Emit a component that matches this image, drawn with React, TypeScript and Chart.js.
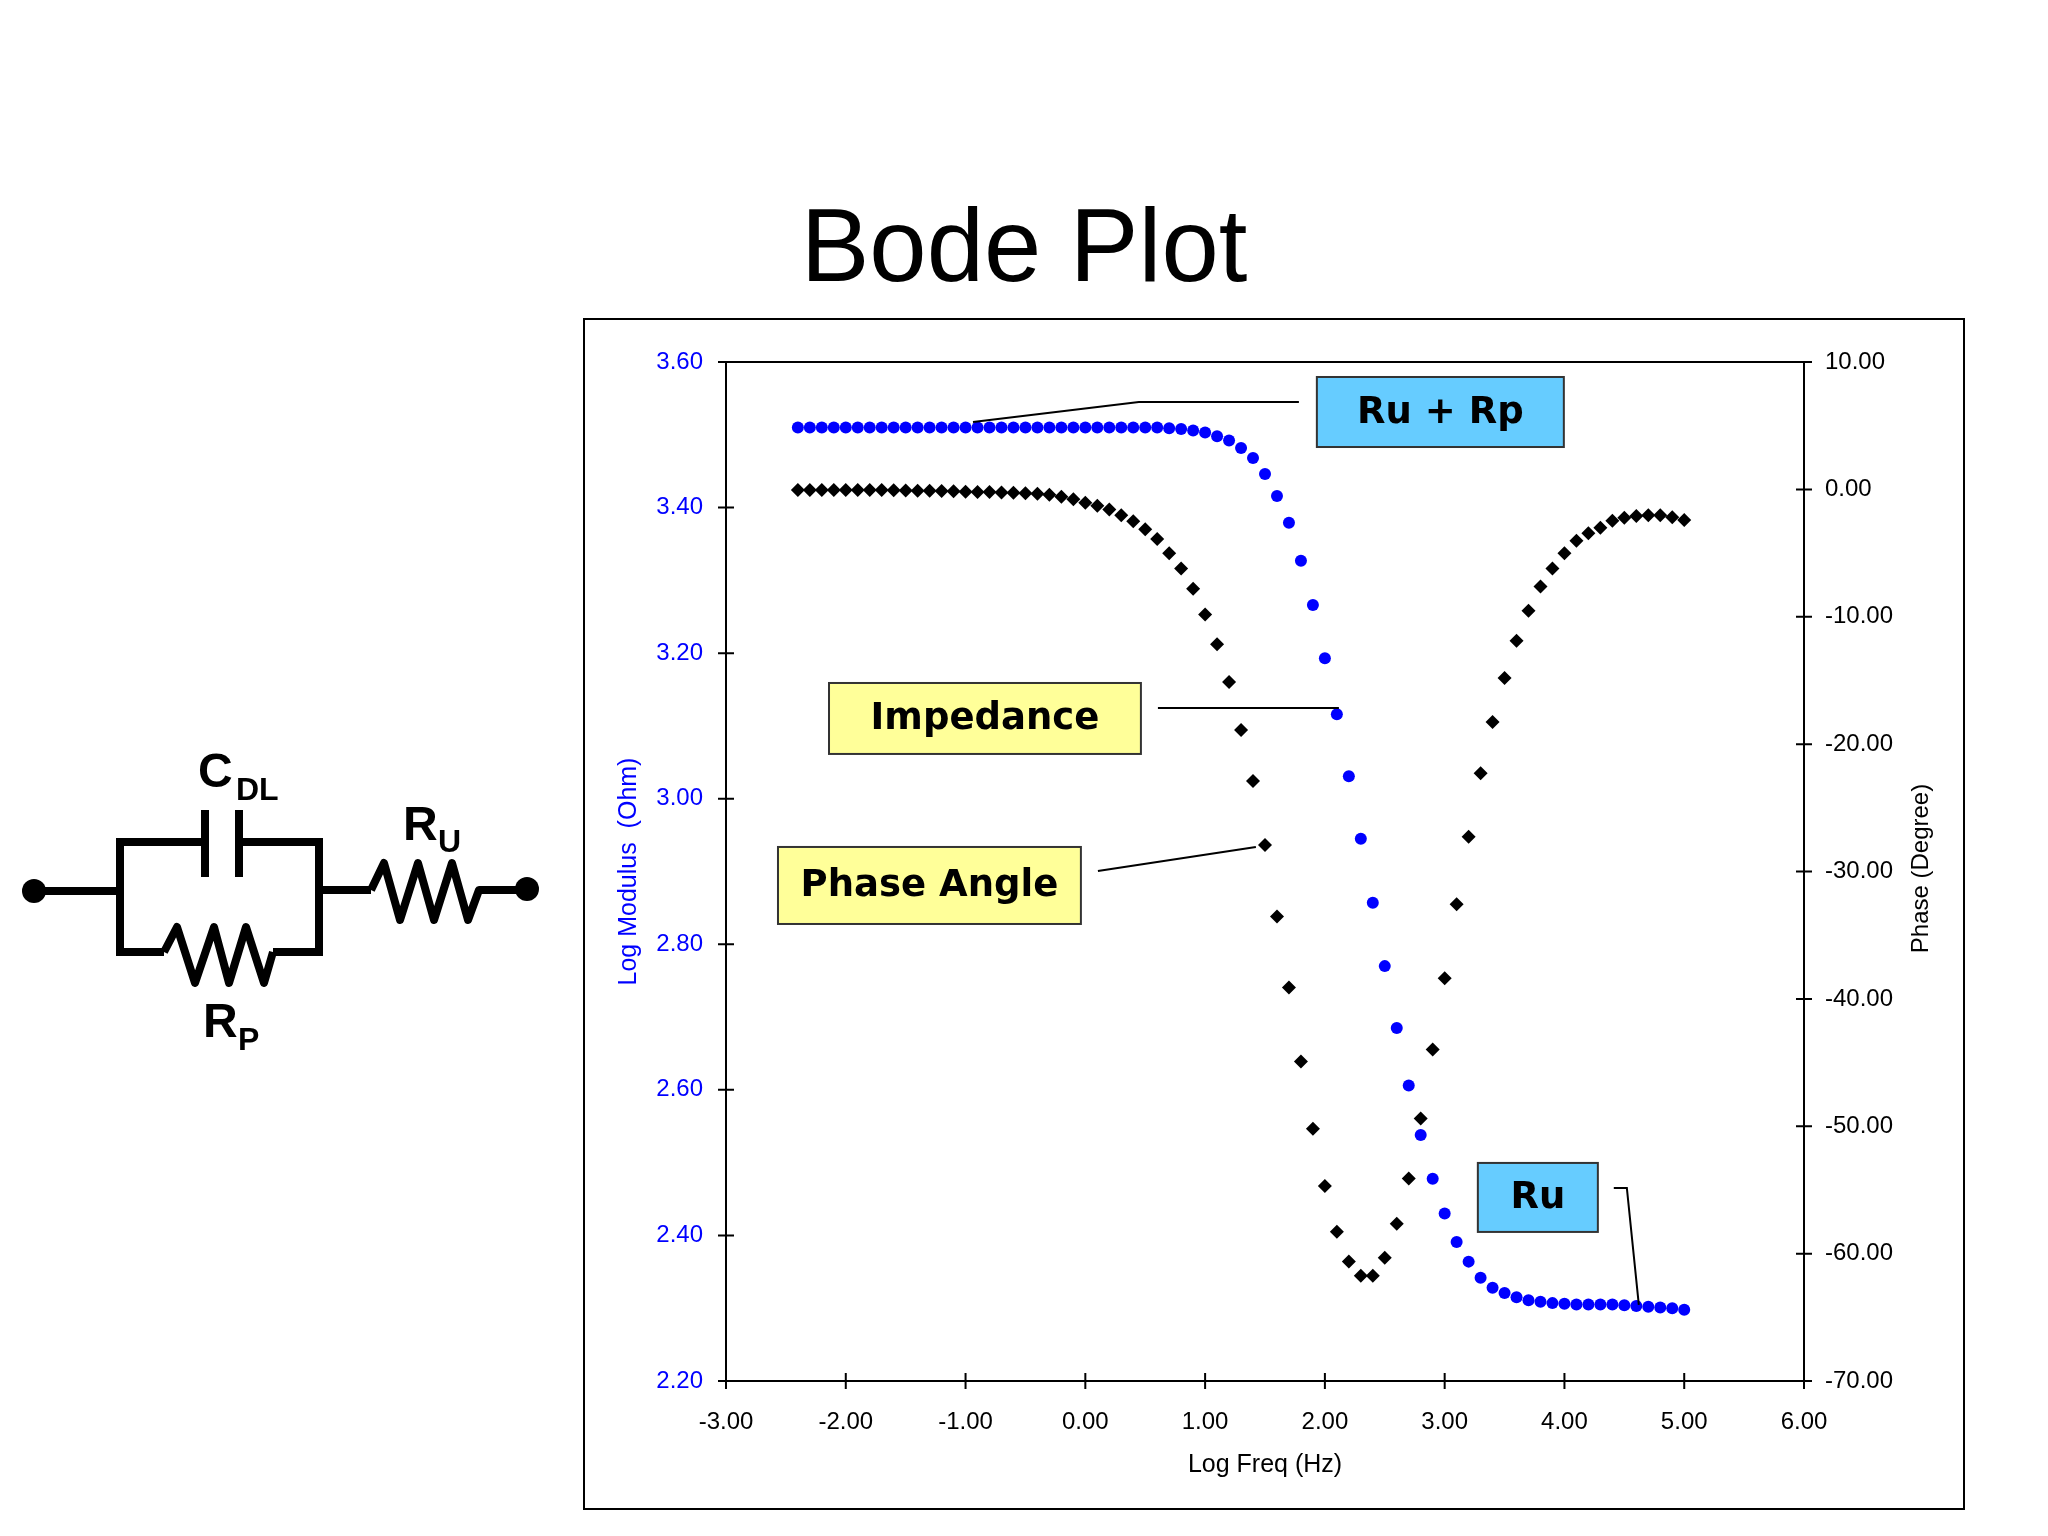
import React, { useEffect, useRef } from 'react';
import { Chart, registerables } from 'chart.js';

Chart.register(...registerables);

// ---------- data ----------
const logFreq = [
  -2.4, -2.3, -2.2, -2.1, -2.0, -1.9, -1.8, -1.7, -1.6, -1.5, -1.4, -1.3, -1.2, -1.1, -1.0,
  -0.9, -0.8, -0.7, -0.6, -0.5, -0.4, -0.3, -0.2, -0.1, 0.0, 0.1, 0.2, 0.3, 0.4, 0.5, 0.6,
  0.7, 0.8, 0.9, 1.0, 1.1, 1.2, 1.3, 1.4, 1.5, 1.6, 1.7, 1.8, 1.9, 2.0, 2.1, 2.2, 2.3, 2.4,
  2.5, 2.6, 2.7, 2.8, 2.9, 3.0, 3.1, 3.2, 3.3, 3.4, 3.5, 3.6, 3.7, 3.8, 3.9, 4.0, 4.1, 4.2,
  4.3, 4.4, 4.5, 4.6, 4.7, 4.8, 4.9, 5.0,
];

const logModulus = [
  3.510, 3.510, 3.510, 3.510, 3.510, 3.510, 3.510, 3.510, 3.510, 3.510, 3.510, 3.510, 3.510, 3.510, 3.510,
  3.510, 3.510, 3.510, 3.510, 3.510, 3.510, 3.510, 3.510, 3.510, 3.510, 3.510, 3.510, 3.510, 3.510, 3.510, 3.510,
  3.509, 3.508, 3.506, 3.503, 3.498, 3.492, 3.482, 3.468, 3.446, 3.416, 3.379, 3.327, 3.266, 3.193, 3.116, 3.031, 2.945, 2.857,
  2.770, 2.685, 2.606, 2.538, 2.478, 2.430, 2.391, 2.364, 2.342, 2.328, 2.321, 2.315, 2.311, 2.309, 2.307, 2.306, 2.305, 2.305,
  2.305, 2.305, 2.304, 2.303, 2.302, 2.301, 2.300, 2.298,
];

const phaseDeg = [
  -0.05, -0.05, -0.05, -0.05, -0.05, -0.05, -0.05, -0.05, -0.07, -0.08, -0.10, -0.11, -0.13, -0.15, -0.18,
  -0.20, -0.21, -0.24, -0.27, -0.30, -0.35, -0.43, -0.57, -0.78, -1.05, -1.28, -1.58, -2.03, -2.50, -3.14, -3.90,
  -5.02, -6.22, -7.80, -9.83, -12.16, -15.12, -18.90, -22.89, -27.91, -33.54, -39.11, -44.92, -50.20, -54.70, -58.29, -60.62, -61.74, -61.74,
  -60.33, -57.66, -54.10, -49.39, -43.98, -38.38, -32.57, -27.28, -22.29, -18.26, -14.80, -11.88, -9.52, -7.63, -6.22, -5.02, -4.03, -3.45,
  -3.01, -2.46, -2.22, -2.09, -2.03, -2.03, -2.19, -2.40,
];

const xTickValues = [-3, -2, -1, 0, 1, 2, 3, 4, 5, 6];
const modulusTickValues = [2.2, 2.4, 2.6, 2.8, 3.0, 3.2, 3.4, 3.6];
const phaseTickValues = [-70, -60, -50, -40, -30, -20, -10, 0, 10];

const annotationTexts = ['Ru + Rp', 'Impedance', 'Phase Angle', 'Ru'];

// ---------- annotation placement (in x / left-axis units) ----------
const annotationBoxes = [
  { x0: 1.933, x1: 3.995, y0: 3.5794, y1: 3.4832, fill: '#66CCFF' },
  { x0: -2.14, x1: 0.464, y0: 3.159, y1: 3.0615, fill: '#FFFF99' },
  { x0: -2.566, x1: -0.037, y0: 2.9337, y1: 2.8279, fill: '#FFFF99' },
  { x0: 3.277, x1: 4.279, y0: 2.4996, y1: 2.4048, fill: '#66CCFF' },
];
const annotationLeaders = [
  [[-0.938, 3.5176], [0.447, 3.545], [1.783, 3.545]],
  [[0.606, 3.1247], [2.117, 3.1247]],
  [[0.105, 2.9006], [1.424, 2.9337]],
  [[4.412, 2.4652], [4.521, 2.4652], [4.621, 2.3045]],
];

const FONT = '"Liberation Sans", Arial, Helvetica, sans-serif';
const BOX_FONT = '"DejaVu Sans", Verdana, sans-serif';

const overlayPlugin = {
  id: 'overlay',
  afterDraw(chart: any) {
    const { ctx, chartArea: ca, scales } = chart;
    const x = scales.x;
    const y = scales.y;
    const y1 = scales.y1;
    ctx.save();

    // outer frame
    ctx.strokeStyle = '#000';
    ctx.lineWidth = 2;
    ctx.strokeRect(584, 319, 1380, 1190);

    // title
    ctx.fillStyle = '#000';
    ctx.font = `103px ${FONT}`;
    ctx.textAlign = 'center';
    ctx.textBaseline = 'alphabetic';
    ctx.fillText('Bode Plot', 1024, 281);

    // top frame line of plot area
    ctx.beginPath();
    ctx.moveTo(ca.left, ca.top);
    ctx.lineTo(ca.right, ca.top);
    ctx.stroke();

    // crossing tick marks
    const tk = 8;
    ctx.beginPath();
    x.ticks.forEach((t: any) => {
      const px = x.getPixelForValue(t.value);
      ctx.moveTo(px, ca.bottom - tk);
      ctx.lineTo(px, ca.bottom + tk);
    });
    y.ticks.forEach((t: any) => {
      const py = y.getPixelForValue(t.value);
      ctx.moveTo(ca.left - tk, py);
      ctx.lineTo(ca.left + tk, py);
    });
    y1.ticks.forEach((t: any) => {
      const py = y1.getPixelForValue(t.value);
      ctx.moveTo(ca.right - tk, py);
      ctx.lineTo(ca.right + tk, py);
    });
    ctx.stroke();

    // right axis title (reads bottom-to-top)
    ctx.save();
    ctx.translate(1921, (ca.top + ca.bottom) / 2 - 3);
    ctx.rotate(-Math.PI / 2);
    ctx.font = `24px ${FONT}`;
    ctx.textAlign = 'center';
    ctx.textBaseline = 'middle';
    ctx.fillStyle = '#000';
    ctx.fillText('Phase (Degree)', 0, 0);
    ctx.restore();

    // annotations
    annotationBoxes.forEach((b, i) => {
      const l = x.getPixelForValue(b.x0);
      const r = x.getPixelForValue(b.x1);
      const t = y.getPixelForValue(b.y0);
      const bt = y.getPixelForValue(b.y1);
      ctx.fillStyle = b.fill;
      ctx.fillRect(l, t, r - l, bt - t);
      ctx.strokeStyle = '#333';
      ctx.lineWidth = 2;
      ctx.strokeRect(l, t, r - l, bt - t);
      ctx.fillStyle = '#000';
      ctx.font = `bold 37px ${BOX_FONT}`;
      ctx.textAlign = 'center';
      ctx.textBaseline = 'middle';
      ctx.fillText(annotationTexts[i], (l + r) / 2, (t + bt) / 2 + 1);

      const pts = annotationLeaders[i];
      ctx.strokeStyle = '#000';
      ctx.lineWidth = 2;
      ctx.beginPath();
      pts.forEach((p, k) => {
        const px = x.getPixelForValue(p[0]);
        const py = y.getPixelForValue(p[1]);
        if (k === 0) ctx.moveTo(px, py);
        else ctx.lineTo(px, py);
      });
      ctx.stroke();
    });

    ctx.restore();
  },
};

function Circuit() {
  const txt = { fontFamily: FONT, fontWeight: 700 as const, fill: '#000' };
  return (
    <svg
      width={2048}
      height={1536}
      style={{ position: 'absolute', left: 0, top: 0, pointerEvents: 'none' }}
    >
      <g stroke="#000" strokeWidth={8} fill="none">
        <line x1={34} y1={891} x2={120} y2={891} />
        <polyline strokeLinejoin="miter" points="205,842 120,842 120,952 164,952" />
        <polyline
          strokeLinejoin="round"
          points="164,952 177,927 195,983 214,927 229,983 246,927 264,983 273,952"
        />
        <polyline strokeLinejoin="miter" points="273,952 319,952 319,842 239,842" />
        <line x1={205} y1={810} x2={205} y2={877} />
        <line x1={239} y1={810} x2={239} y2={877} />
        <line x1={319} y1={890} x2={371} y2={890} />
        <polyline
          strokeLinejoin="round"
          points="371,890 384,863 400,920 418,863 434,920 452,863 468,920 479,890 527,890"
        />
      </g>
      <circle cx={34} cy={891} r={12} fill="#000" />
      <circle cx={527} cy={889} r={12} fill="#000" />
      <text x={198} y={787} fontSize={48} {...txt}>C</text>
      <text x={236} y={800} fontSize={32} {...txt}>DL</text>
      <text x={403} y={840} fontSize={48} {...txt}>R</text>
      <text x={438} y={852} fontSize={32} {...txt}>U</text>
      <text x={203} y={1037} fontSize={48} {...txt}>R</text>
      <text x={238} y={1050} fontSize={32} {...txt}>P</text>
    </svg>
  );
}

export default function App() {
  const canvasRef = useRef<HTMLCanvasElement | null>(null);

  useEffect(() => {
    if (!canvasRef.current) return;
    const modulusPoints = logFreq.map((f, i) => ({ x: f, y: logModulus[i] }));
    const phasePoints = logFreq.map((f, i) => ({ x: f, y: phaseDeg[i] }));

    const chart = new Chart(canvasRef.current, {
      type: 'scatter',
      data: {
        datasets: [
          {
            label: 'Log Modulus',
            data: modulusPoints,
            yAxisID: 'y',
            pointStyle: 'circle',
            pointRadius: 6,
            pointBackgroundColor: '#0000FF',
            pointBorderWidth: 0,
            showLine: false,
          },
          {
            label: 'Phase',
            data: phasePoints,
            yAxisID: 'y1',
            pointStyle: 'rectRot',
            pointRadius: 7,
            pointBackgroundColor: '#000',
            pointBorderWidth: 0,
            showLine: false,
          },
        ],
      },
      options: {
        animation: false,
        responsive: false,
        devicePixelRatio: 1,
        events: [],
        layout: { padding: { left: 612, right: 144, top: 362, bottom: 56 } },
        plugins: {
          legend: { display: false },
          tooltip: { enabled: false },
          title: { display: false },
        },
        scales: {
          x: {
            type: 'linear',
            position: 'bottom',
            min: -3,
            max: 6,
            afterBuildTicks: (s: any) => {
              s.ticks = xTickValues.map((v) => ({ value: v }));
            },
            afterFit: (s: any) => {
              s.height = 99;
            },
            grid: { display: false },
            border: { display: true, color: '#000', width: 2 },
            ticks: {
              color: '#000',
              font: { family: FONT, size: 24 },
              padding: 19,
              maxRotation: 0,
              autoSkip: false,
              callback: (v: any) => Number(v).toFixed(2),
            },
            title: {
              display: true,
              text: 'Log Freq (Hz)',
              color: '#000',
              font: { family: FONT, size: 25 },
              padding: { top: 0, bottom: 0 },
            },
          },
          y: {
            type: 'linear',
            position: 'left',
            min: 2.2,
            max: 3.6,
            afterBuildTicks: (s: any) => {
              s.ticks = modulusTickValues.map((v) => ({ value: v }));
            },
            afterFit: (s: any) => {
              s.width = 114;
            },
            grid: { display: false },
            border: { display: true, color: '#000', width: 2 },
            ticks: {
              color: '#0000FF',
              font: { family: FONT, size: 24 },
              padding: 15,
              autoSkip: false,
              callback: (v: any) => Number(v).toFixed(2),
            },
            title: {
              display: true,
              text: 'Log Modulus  (Ohm)',
              color: '#0000FF',
              font: { family: FONT, size: 25 },
              padding: { top: 2, bottom: 0 },
            },
          },
          y1: {
            type: 'linear',
            position: 'right',
            min: -70,
            max: 10,
            afterBuildTicks: (s: any) => {
              s.ticks = phaseTickValues.map((v) => ({ value: v }));
            },
            afterFit: (s: any) => {
              s.width = 100;
            },
            grid: { display: false },
            border: { display: true, color: '#000', width: 2 },
            ticks: {
              color: '#000',
              font: { family: FONT, size: 24 },
              padding: 13,
              autoSkip: false,
              callback: (v: any) => Number(v).toFixed(2),
            },
            title: { display: false },
          },
        },
      },
      plugins: [overlayPlugin],
    } as any);

    return () => chart.destroy();
  }, []);

  return (
    <div style={{ position: 'absolute', left: 0, top: 0, width: 2048, height: 1536, background: '#fff' }}>
      <canvas
        ref={canvasRef}
        width={2048}
        height={1536}
        style={{ position: 'absolute', left: 0, top: 0, width: 2048, height: 1536 }}
      />
      <Circuit />
    </div>
  );
}
